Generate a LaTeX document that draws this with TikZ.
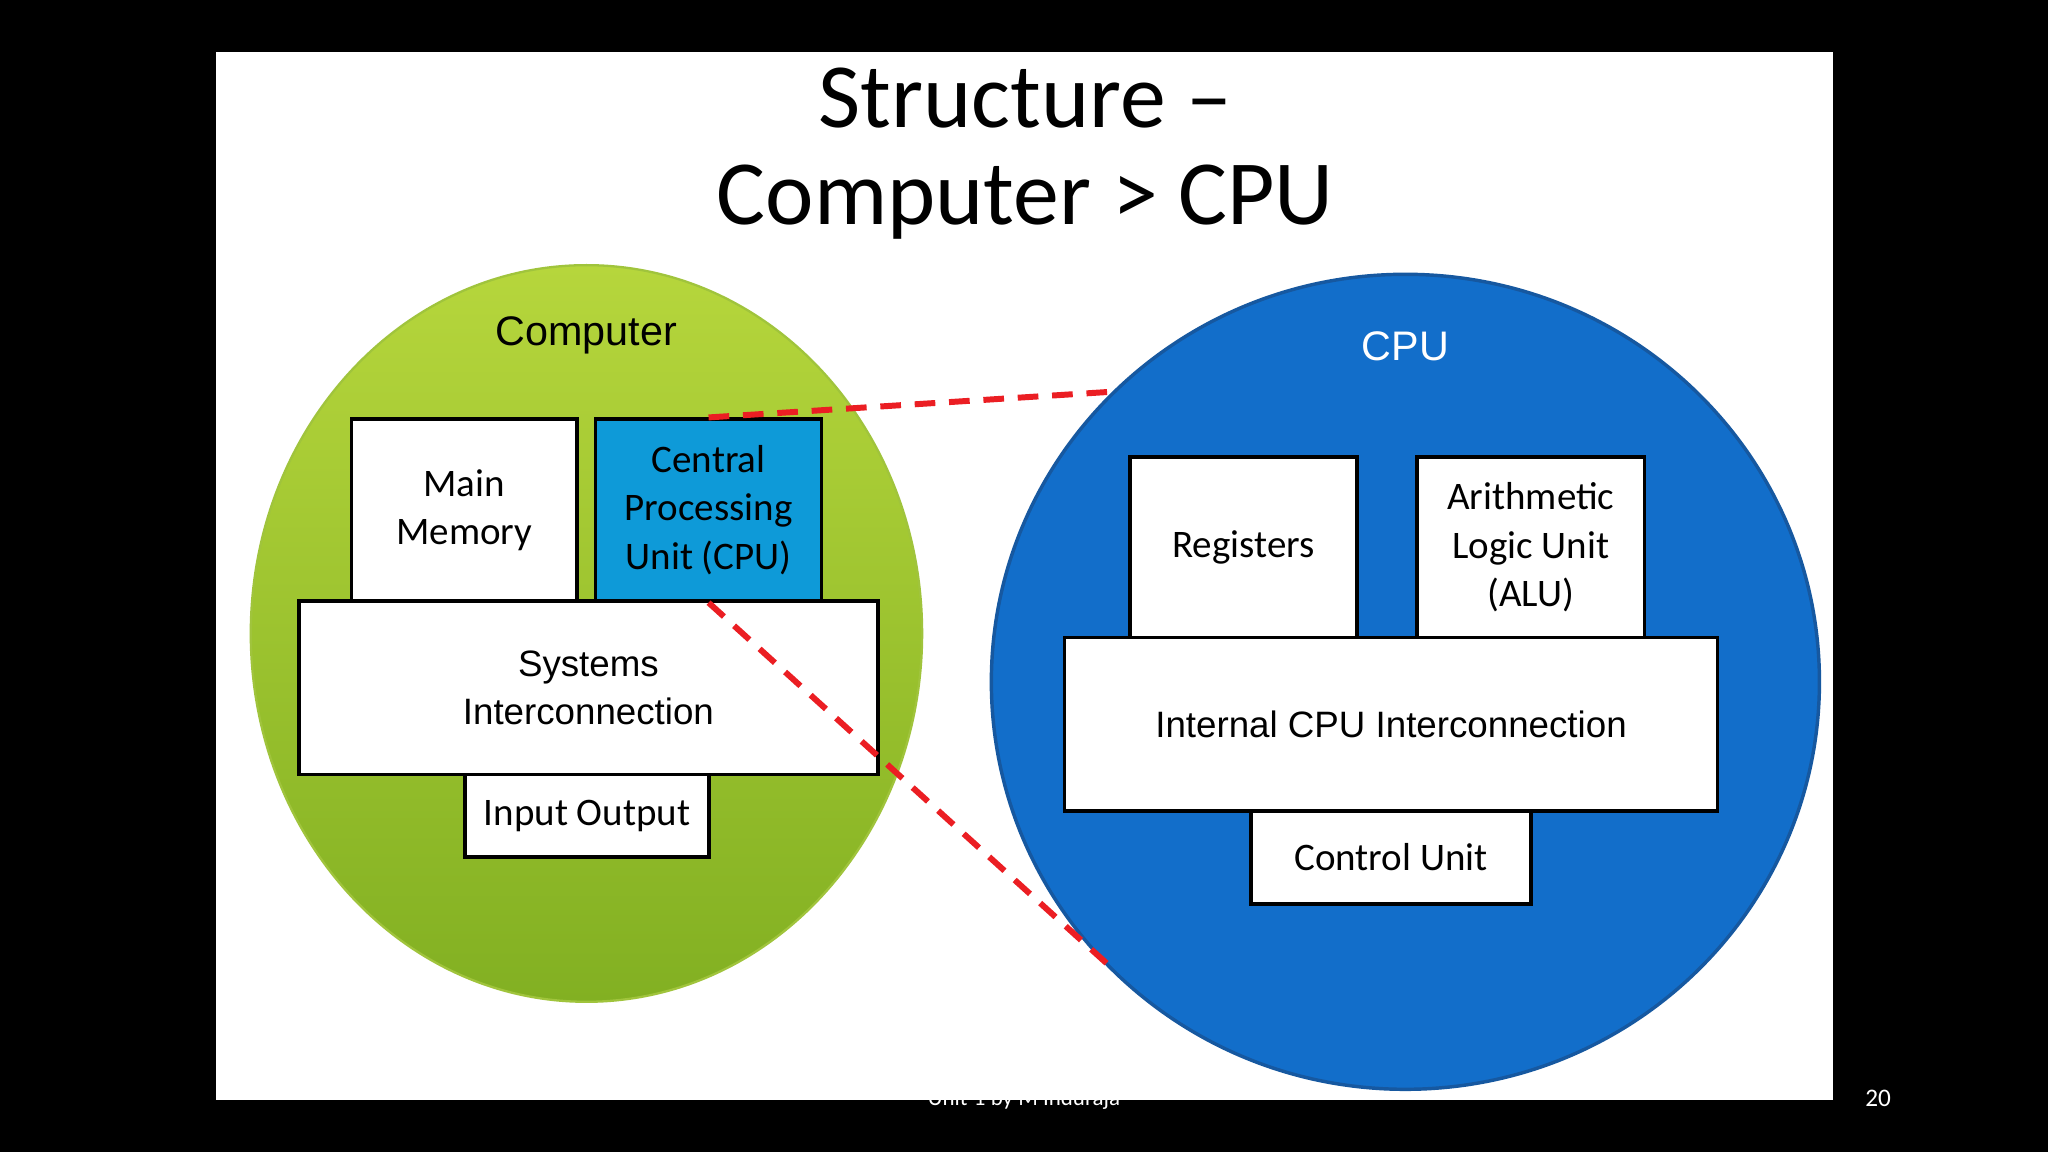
\documentclass[tikz,border=0pt]{standalone}
\usepackage{fontspec}
\setmainfont{Carlito}
\newfontfamily\arial{Liberation Sans}
\definecolor{gtop}{RGB}{182,214,60}
\definecolor{gbot}{RGB}{130,176,34}
\definecolor{gline}{RGB}{160,196,60}
\definecolor{bfill}{RGB}{18,110,202}
\definecolor{bline}{RGB}{22,88,160}
\definecolor{cpuc}{RGB}{14,154,216}
\definecolor{redd}{RGB}{235,30,35}
\begin{document}
\begin{tikzpicture}[x=0.02cm,y=-0.02cm,
  box/.style={draw=black,line width=1.6pt,fill=white,align=center,font=\fontsize{17}{21}\selectfont},
  red dash/.style={draw=redd,line width=2.6pt,dash pattern=on 9pt off 6pt}]
\fill[black] (0,0) rectangle (1568,882);
\useasboundingbox (0,0) rectangle (1568,882);
\fill[white] (165,40) rectangle (1403,842);
\node[font=\fontsize{40}{48}\selectfont] (t1) at (785,75) {Structure –};
\node[font=\fontsize{40}{48}\selectfont] (t2) at (785,155) {Computer > CPU};
% green circle
\shade[top color=gtop,bottom color=gbot,draw=gline,line width=1pt] (449,485) ellipse [x radius=257,y radius=-282];
\node[font=\arial\fontsize{18}{22}\selectfont] (comp) at (449,257) {Computer};
% blue circle
\fill[bfill,draw=bline,line width=1.5pt] (1076,522) ellipse [x radius=317,y radius=-312];
\node[font=\arial\fontsize{18}{22}\selectfont,text=white] (cpu) at (1076,265) {CPU};
% left boxes
\node[box,minimum width=173*0.02cm,minimum height=139*0.02cm] (mm) at (355.5,390.5) {Main\\Memory};
\node[box,fill=cpuc,minimum width=173*0.02cm,minimum height=139*0.02cm] (cpub) at (542.5,390.5) {Central\\Processing\\Unit (CPU)};
\node[box,font=\arial\fontsize{16}{21}\selectfont,minimum width=443*0.02cm,minimum height=133*0.02cm] (si) at (450.5,526.5) {Systems\\Interconnection};
\node[box,minimum width=187*0.02cm,minimum height=63*0.02cm] (io) at (449.5,624.5) {Input Output};
% right boxes
\node[box,minimum width=174*0.02cm,minimum height=138*0.02cm] (reg) at (952,419) {Registers};
\node[box,minimum width=174*0.02cm,minimum height=138*0.02cm] (alu) at (1172,419) {Arithmetic\\Logic Unit\\(ALU)};
\node[box,font=\arial\fontsize{16}{21}\selectfont,minimum width=500*0.02cm,minimum height=133*0.02cm] (icpu) at (1065,554.5) {Internal CPU Interconnection};
\node[box,minimum width=214*0.02cm,minimum height=71*0.02cm] (cu) at (1065,656.5) {Control Unit};
% red dashed
\coordinate (p1) at (850,300);
\coordinate (p2) at (850,740);
\draw[red dash] (cpub.north) -- (p1);
\draw[red dash] (cpub.south) -- (p2);
% footer
\node[text=white,font=\fontsize{10}{12}\selectfont] (ft) at (784,842) {Unit-1 by M Induraja};
\node[text=white,font=\fontsize{11}{13}\selectfont] (pg) at (1438,841) {20};
\end{tikzpicture}
\end{document}
